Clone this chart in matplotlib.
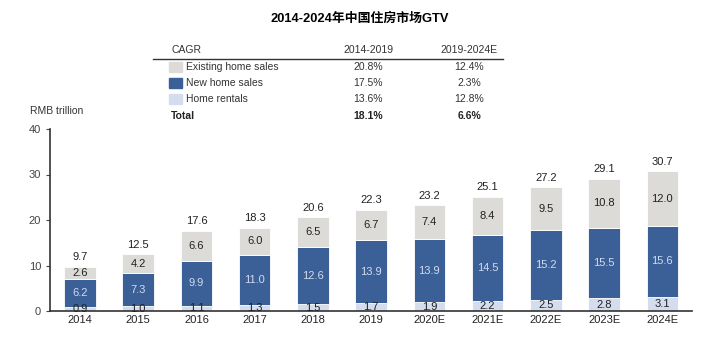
import matplotlib
matplotlib.use("Agg")
import matplotlib.pyplot as plt
import numpy as np

plt.rcParams['font.family'] = ['Liberation Sans', 'Noto Sans CJK SC', 'DejaVu Sans']

years = ["2014", "2015", "2016", "2017", "2018", "2019", "2020E", "2021E", "2022E", "2023E", "2024E"]
rentals = [0.9, 1.0, 1.1, 1.3, 1.5, 1.7, 1.9, 2.2, 2.5, 2.8, 3.1]
new_home = [6.2, 7.3, 9.9, 11.0, 12.6, 13.9, 13.9, 14.5, 15.2, 15.5, 15.6]
existing = [2.6, 4.2, 6.6, 6.0, 6.5, 6.7, 7.4, 8.4, 9.5, 10.8, 12.0]
totals = [9.7, 12.5, 17.6, 18.3, 20.6, 22.3, 23.2, 25.1, 27.2, 29.1, 30.7]

series_names = ["Existing home sales", "New home sales", "Home rentals"]
cagr_1419 = ["20.8%", "17.5%", "13.6%"]
cagr_1924 = ["12.4%", "2.3%", "12.8%"]
total_cagr = ["18.1%", "6.6%"]

c_exist = "#dcdbd7"
c_new = "#3b5f97"
c_rent = "#d3ddee"

W, H = 709, 339
fig = plt.figure(figsize=(W/100, H/100), dpi=100)
ax = fig.add_axes([50/W, 1-311/H, 642/W, 182/H])

x = np.arange(len(years))
bw = 0.54
ax.bar(x, rentals, bw, color=c_rent, edgecolor="white", linewidth=0.6)
ax.bar(x, new_home, bw, bottom=rentals, color=c_new, edgecolor="white", linewidth=0.6)
bot2 = np.array(rentals) + np.array(new_home)
ax.bar(x, existing, bw, bottom=bot2, color=c_exist, edgecolor="white", linewidth=0.6)

for i in range(len(years)):
    ax.text(x[i], rentals[i]/2, f"{rentals[i]:.1f}", ha="center", va="center", fontsize=8, color="#222222")
    ax.text(x[i], rentals[i] + new_home[i]/2, f"{new_home[i]:.1f}", ha="center", va="center", fontsize=8, color="#d0dcf0")
    ax.text(x[i], bot2[i] + existing[i]/2, f"{existing[i]:.1f}", ha="center", va="center", fontsize=8, color="#222222")
    ax.text(x[i], bot2[i] + existing[i] + 1.0, f"{totals[i]:.1f}", ha="center", va="bottom", fontsize=8, color="#222222")

ax.set_xlim(-0.515, 10.51)
ax.set_ylim(0, 40)
ax.set_yticks([0, 10, 20, 30, 40])
ax.set_xticks(x)
ax.set_xticklabels(years)
ax.tick_params(axis="x", length=0, labelsize=8, colors="#222222", pad=3)
ax.tick_params(axis="y", length=3, labelsize=8, colors="#444444", direction="out")
for s in ["top", "right"]:
    ax.spines[s].set_visible(False)
ax.spines["left"].set_color("#333333")
ax.spines["bottom"].set_color("#333333")
ax.spines["left"].set_linewidth(1.2)
ax.spines["bottom"].set_linewidth(1.2)

fig.text(30/W, 1-111/H, "RMB trillion", fontsize=7.5, va="center", ha="left", color="#333333")

fig.text(360/W, 1-19/H, "2014-2024年中国住房市场GTV", fontsize=9.3, fontweight="bold",
         ha="center", va="center", color="#000000")

# CAGR table
fs = 7.5
fig.text(171/W, 1-50/H, "CAGR", fontsize=fs, va="center", ha="left", color="#333333")
fig.text(368/W, 1-50/H, "2014-2019", fontsize=fs, va="center", ha="center", color="#333333")
fig.text(469/W, 1-50/H, "2019-2024E", fontsize=fs, va="center", ha="center", color="#333333")
fig.add_artist(plt.Line2D([153/W, 503/W], [1-59/H, 1-59/H], color="#333333", linewidth=1.0))
row_y = [67, 83, 99]
colors = [c_exist, c_new, c_rent]
for yy, name, a, b, c in zip(row_y, series_names, cagr_1419, cagr_1924, colors):
    fig.add_artist(plt.Rectangle((169/W, 1-(yy+5)/H), 13/W, 10/H, color=c, transform=fig.transFigure))
    fig.text(186/W, 1-yy/H, name, fontsize=fs, va="center", ha="left", color="#333333")
    fig.text(368/W, 1-yy/H, a, fontsize=fs, va="center", ha="center", color="#333333")
    fig.text(469/W, 1-yy/H, b, fontsize=fs, va="center", ha="center", color="#333333")
fig.text(171/W, 1-116/H, "Total", fontsize=fs, va="center", ha="left", fontweight="bold", color="#222222")
fig.text(368/W, 1-116/H, total_cagr[0], fontsize=fs, va="center", ha="center", fontweight="bold", color="#222222")
fig.text(469/W, 1-116/H, total_cagr[1], fontsize=fs, va="center", ha="center", fontweight="bold", color="#222222")

fig.savefig("out.png", dpi=100)
